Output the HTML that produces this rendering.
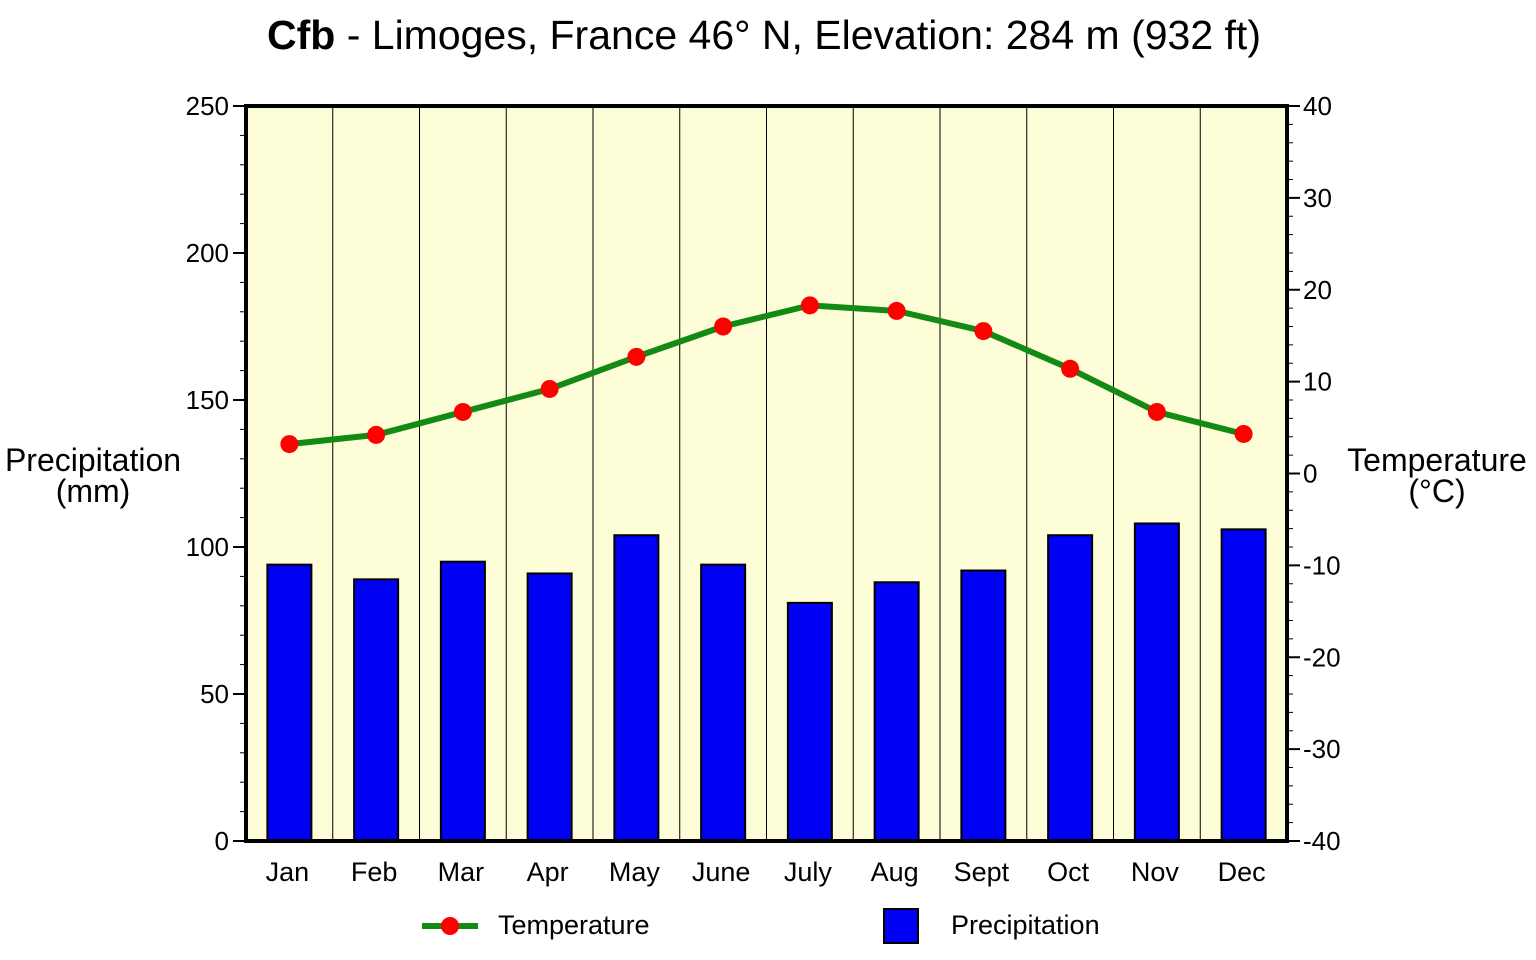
<!DOCTYPE html>
<html><head><meta charset="utf-8"><style>
body{margin:0;background:#fff;}
svg{display:block;font-family:"Liberation Sans",Arial,sans-serif;}
</style></head><body>
<svg id="chart" width="1536" height="960" viewBox="0 0 1536 960">
<text x="764" y="49" font-size="41" text-anchor="middle"><tspan font-weight="bold">Cfb</tspan> - Limoges, France 46° N, Elevation: 284 m (932 ft)</text>
<rect x="246" y="106" width="1041" height="735" fill="#fdfdd8"/>
<g id="grid"></g><g id="bars"></g><g id="line"></g>
<rect x="246" y="106" width="1041" height="735" fill="none" stroke="#000" stroke-width="4"/>
<g id="axes"></g>
<text x="93" y="471" font-size="32" text-anchor="middle"><tspan x="93">Precipitation</tspan><tspan x="93" dy="31">(mm)</tspan></text>
<text x="1437" y="471" font-size="32" text-anchor="middle"><tspan x="1437">Temperature</tspan><tspan x="1437" dy="31">(°C)</tspan></text>
<g>
<line x1="422" y1="926" x2="478" y2="926" stroke="#138a13" stroke-width="6"/>
<circle cx="450" cy="926" r="9" fill="#f00"/>
<text x="498" y="934" font-size="27">Temperature</text></g>
<g>
<rect x="884" y="909" width="34" height="34" fill="#0000f5" stroke="#000" stroke-width="2"/>
<text x="951" y="934" font-size="27">Precipitation</text></g>
</svg>
<script>
const months=["Jan","Feb","Mar","Apr","May","June","July","Aug","Sept","Oct","Nov","Dec"];
const precip=[94,89,95,91,104,94,81,88,92,104,108,106];
const temp=[3.2,4.2,6.7,9.2,12.7,16.0,18.3,17.7,15.5,11.4,6.7,4.3];
const precipTicks=[0,50,100,150,200,250];
const tempTicks=[-40,-30,-20,-10,0,10,20,30,40];
const L=246,R=1287,T=106,B=841,cw=(R-L)/12;
const ns="http://www.w3.org/2000/svg";
const yP=v=>B-(v/250)*(B-T);
const yT=v=>B-((v+40)/80)*(B-T);
const xC=i=>L+cw*(i+0.5);
function mk(tag,attrs,parent){const e=document.createElementNS(ns,tag);for(const k in attrs)e.setAttribute(k,attrs[k]);document.getElementById(parent).appendChild(e);return e;}
for(let i=1;i<12;i++){const e=mk("line",{x1:L+cw*i,x2:L+cw*i,y1:T,y2:B,stroke:"#000","stroke-width":1},"grid");

}
precip.forEach((v,i)=>{const e=mk("rect",{x:xC(i)-22,y:yP(v),width:44,height:B-yP(v),fill:"#0000f5",stroke:"#000","stroke-width":2},"bars");

});
const pl=mk("polyline",{points:temp.map((v,i)=>xC(i)+","+yT(v)).join(" "),fill:"none",stroke:"#138a13","stroke-width":6,"stroke-linejoin":"round"},"line");


temp.forEach((v,i)=>{const c=mk("circle",{cx:xC(i),cy:yT(v),r:9,fill:"#f00"},"line");

});
for(let v=0;v<=250;v+=10){const major=v%50===0;mk("line",{x1:major?233:240,x2:246,y1:yP(v),y2:yP(v),stroke:"#000","stroke-width":major?2:1},"axes");}
precipTicks.forEach(v=>{const t=mk("text",{x:229,y:yP(v)+9,"font-size":26,"text-anchor":"end"},"axes");t.textContent=v;

});
for(let v=-40;v<=40;v+=2){const major=v%10===0;mk("line",{x1:1287,x2:major?1300:1293,y1:yT(v),y2:yT(v),stroke:"#000","stroke-width":major?2:1},"axes");}
tempTicks.forEach(v=>{const t=mk("text",{x:1303,y:yT(v)+9,"font-size":26},"axes");t.textContent=v;

});
months.forEach((m,i)=>{const t=mk("text",{x:xC(i)-2,y:881,"font-size":27,"text-anchor":"middle"},"axes");t.textContent=m;

});
</script>
</body></html>
